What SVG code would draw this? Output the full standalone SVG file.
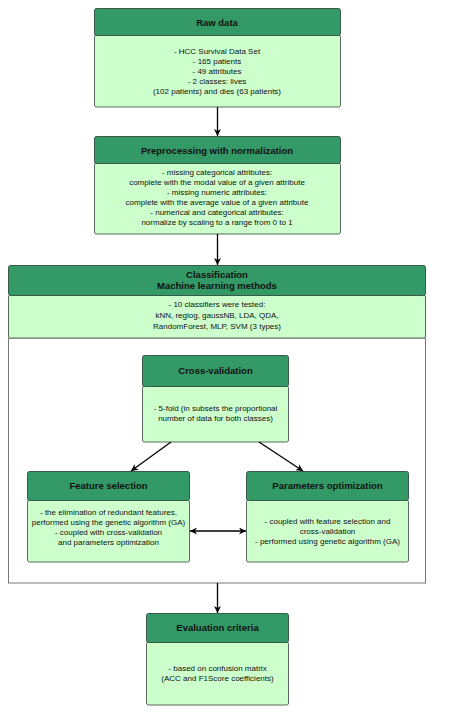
<svg xmlns="http://www.w3.org/2000/svg" width="474" height="714" viewBox="0 0 474 714">
<style>
.hd{fill:#339966;stroke:#3a5a48;stroke-width:1}
.bd{fill:#ccffcc;stroke:#5a6a5e;stroke-width:1}
.ht{font-family:"Liberation Sans",Arial,sans-serif;font-size:9.5px;font-weight:bold;fill:#111;text-anchor:middle}
.bt{font-family:"Liberation Sans",Arial,sans-serif;font-size:8px;fill:#111;text-anchor:middle}
.ln{stroke:#000;stroke-width:1.3;fill:none}
</style>
<defs>
<marker id="ah" viewBox="0 0 10 10" refX="10" refY="5" markerWidth="7" markerHeight="7" orient="auto-start-reverse" markerUnits="userSpaceOnUse">
<path d="M0,0 L10,5 L0,10 L3,5 Z" fill="#000"/>
</marker>
</defs>
<rect x="8.5" y="338" width="417" height="245" fill="#fff" stroke="#777" stroke-width="1"/>
<g id="raw">
<rect class="bd" x="94.5" y="35" width="246" height="72" rx="2"/>
<rect class="hd" x="94.5" y="8.5" width="246" height="27" rx="2"/>
<text class="ht" x="217" y="25.5">Raw data</text>
<text class="bt" x="217" y="54">- HCC Survival Data Set</text>
<text class="bt" x="217" y="64">- 165 patients</text>
<text class="bt" x="217" y="74">- 49 attributes</text>
<text class="bt" x="217" y="84">- 2 classes: lives</text>
<text class="bt" x="217" y="94">(102 patients) and dies (63 patients)</text>
</g>
<g id="pre">
<rect class="bd" x="94.5" y="163" width="246" height="71" rx="2"/>
<rect class="hd" x="94.5" y="136.5" width="246" height="27" rx="2"/>
<text class="ht" x="217" y="153.5">Preprocessing with normalization</text>
<text class="bt" x="217" y="175">- missing categorical attributes:</text>
<text class="bt" x="217" y="185">complete with the modal value of a given attribute</text>
<text class="bt" x="217" y="195">- missing numeric attributes:</text>
<text class="bt" x="217" y="205">complete with the average value of a given attribute</text>
<text class="bt" x="217" y="215">- numerical and categorical attributes:</text>
<text class="bt" x="217" y="225">normalize by scaling to a range from 0 to 1</text>
</g>
<g id="cls">
<rect class="bd" x="8.5" y="295" width="417" height="43" rx="2"/>
<rect class="hd" x="8.5" y="265.5" width="417" height="30" rx="2"/>
<text class="ht" x="217" y="278">Classification</text>
<text class="ht" x="217" y="289">Machine learning methods</text>
<text class="bt" x="217" y="307">- 10 classifiers were tested:</text>
<text class="bt" x="217" y="318">kNN, reglog, gaussNB, LDA, QDA,</text>
<text class="bt" x="217" y="329">RandomForest, MLP, SVM (3 types)</text>
</g>
<g id="cv">
<rect class="bd" x="142.5" y="386" width="146" height="56" rx="2"/>
<rect class="hd" x="142.5" y="355.5" width="146" height="31" rx="2"/>
<text class="ht" x="215.5" y="374">Cross-validation</text>
<text class="bt" x="215.5" y="411">- 5-fold (in subsets the proportional</text>
<text class="bt" x="215.5" y="421">number of data for both classes)</text>
</g>
<g id="fs">
<rect class="bd" x="27.5" y="500" width="162" height="62" rx="2"/>
<rect class="hd" x="27.5" y="471.5" width="162" height="29" rx="2"/>
<text class="ht" x="108.5" y="489">Feature selection</text>
<text class="bt" x="108.5" y="515">- the elimination of redundant features,</text>
<text class="bt" x="108.5" y="525">performed using the genetic algorithm (GA)</text>
<text class="bt" x="108.5" y="535">- coupled with cross-validation</text>
<text class="bt" x="108.5" y="545">and parameters optimization</text>
</g>
<g id="po">
<rect class="bd" x="246.5" y="500" width="162" height="62" rx="2"/>
<rect class="hd" x="246.5" y="471.5" width="162" height="29" rx="2"/>
<text class="ht" x="327.5" y="489">Parameters optimization</text>
<text class="bt" x="327.5" y="524">- coupled with feature selection and</text>
<text class="bt" x="327.5" y="534">cross-validation</text>
<text class="bt" x="327.5" y="544">- performed using genetic algorithm (GA)</text>
</g>
<g id="ev">
<rect class="bd" x="146.5" y="642" width="142" height="63" rx="2"/>
<rect class="hd" x="146.5" y="613.5" width="142" height="29" rx="2"/>
<text class="ht" x="217.5" y="631">Evaluation criteria</text>
<text class="bt" x="217.5" y="671">- based on confusion matrix</text>
<text class="bt" x="217.5" y="681">(ACC and F1Score coefficients)</text>
</g>
<g id="connectors">
<line class="ln" x1="217.5" y1="107" x2="217.5" y2="136" marker-end="url(#ah)"/>
<line class="ln" x1="217.5" y1="234" x2="217.5" y2="265" marker-end="url(#ah)"/>
<line class="ln" x1="171" y1="442" x2="131" y2="471" marker-end="url(#ah)"/>
<line class="ln" x1="259" y1="442" x2="303" y2="471" marker-end="url(#ah)"/>
<line class="ln" x1="190" y1="531" x2="246" y2="531" marker-start="url(#ah)" marker-end="url(#ah)"/>
<line class="ln" x1="217.5" y1="583" x2="217.5" y2="613" marker-end="url(#ah)"/>
</g>
</svg>
